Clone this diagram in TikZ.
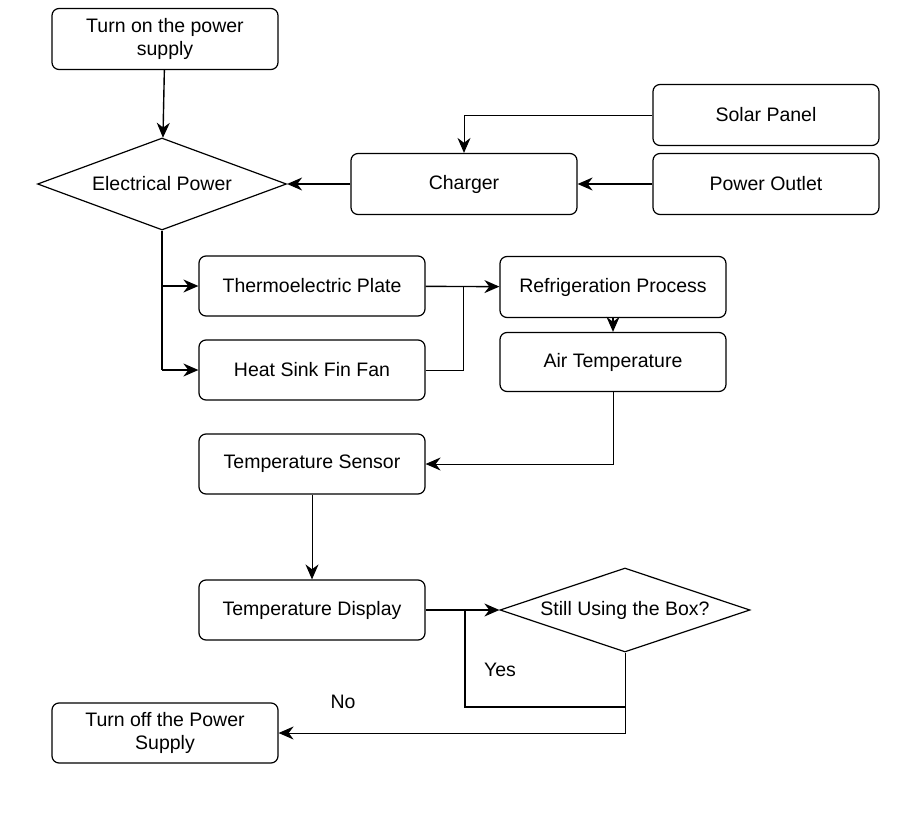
\documentclass[tikz,border=0pt]{standalone}
\usepackage{fontspec}
\setmainfont{Liberation Sans}
\usetikzlibrary{shapes.geometric,arrows.meta}
\begin{document}
\begin{tikzpicture}[x=1pt,y=-1pt,
  box/.style={draw,line width=1.2pt,rounded corners=7pt,minimum width=226pt,minimum height=61pt,align=center,font=\fontsize{19.5}{23}\selectfont},
  ar/.style={line width=1.4pt,-{Stealth[length=15pt,width=13pt]}},
  ln/.style={line width=1.4pt},
  lab/.style={font=\fontsize{19.5}{23}\selectfont}]
\useasboundingbox (0,0) rectangle (898,825);
\node[box] (on) at (165,39) {Turn on the power\\supply};
\node[draw,line width=1.2pt,diamond,aspect=2.7,minimum width=249pt,minimum height=92pt,inner sep=0pt,font=\fontsize{19.5}{23}\selectfont] (ep) at (162,184) {Electrical Power};
\node[box] (ch) at (464,184) {Charger};
\node[box] (sp) at (766,115) {Solar Panel};
\node[box] (po) at (766,184) {Power Outlet};
\node[box,minimum height=60pt] (tp) at (312,286) {Thermoelectric Plate};
\node[box,minimum height=60pt] (hs) at (312,370) {Heat Sink Fin Fan};
\node[box] (rp) at (613,287) {Refrigeration Process};
\node[box,minimum height=59pt] (at) at (613,362) {Air Temperature};
\node[box,minimum height=60pt] (ts) at (312,464) {Temperature Sensor};
\node[box,minimum height=60pt] (td) at (312,610) {Temperature Display};
\node[draw,line width=1.2pt,diamond,aspect=2.98,minimum width=250pt,minimum height=84pt,inner sep=0pt,font=\fontsize{19.5}{23}\selectfont] (su) at (625,610) {Still Using the Box?};
\node[box,minimum height=60pt] (off) at (165,733) {Turn off the Power\\Supply};
\coordinate (j1) at (162,370);
\coordinate (j2) at (463,370);
\coordinate (j3) at (465,707);
\coordinate (j4) at (625,707);
\draw[ar] (on) -- (ep);
\draw[ar,line width=1pt] (sp.west) -| (ch.north);
\draw[ar] (po) -- (ch);
\draw[ar] (ch) -- (ep);
\draw[ln] (ep.south) -- (j1);
\draw[ar] (162,286) -- (tp.west);
\draw[ar] (j1) -- (hs.west);
\draw[ar] (tp) -- (rp);
\draw[ln,line width=1pt] (hs.east) -- (j2) -- (463,286);
\draw[ar] (rp) -- (at);
\draw[ar,line width=1pt] (at.south) |- (ts.east);
\draw[ar,line width=1pt] (ts) -- (td);
\draw[ar] (td) -- (su);
\draw[ln] (465,610) -- (j3) -- (j4);
\draw[ar,line width=1pt] (su.south) |- (off.east);
\node[lab] (yes) at (500,670) {Yes};
\node[lab] (no) at (343,702) {No};
\end{tikzpicture}
\end{document}
